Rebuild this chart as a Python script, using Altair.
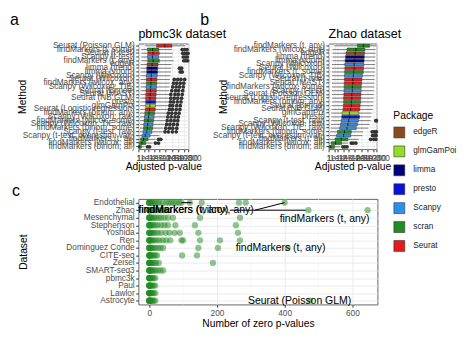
import altair as alt
import pandas as pd

# ---------------- data ----------------
packages = ["edgeR", "glmGamPoi", "limma", "presto", "Scanpy", "scran", "Seurat"]
package_colors = ["#8B4A1E", "#93DC2A", "#00007A", "#0A12D8", "#2E8FE8", "#228B22", "#E41A1C"]

pvalue_ticks = [0, 1, 2, 5, 10, 20, 50, 100, 200, 300]  # -log10(adjusted p)

# panel a : pbmc3k dataset (values are -log10 adjusted p-values)
methods_a = ["Seurat (Poisson GLM)", "findMarkers (t, some)", "Seurat (t-test)", "Scanpy (t-test)",
             "findMarkers (t, any)", "edgeR", "limma (trend)", "limma (voom)", "Scanpy (Wilcoxon)",
             "Seurat (Wilcoxon)", "findMarkers (wilcox, any)", "Scanpy (Wilcoxon, TIE)", "Seurat (Bimod)",
             "Seurat (MAST)", "Seurat (NB GLM)", "presto", "glmGamPoi", "Seurat (Logistic regression)",
             "findMarkers (binom, any)", "Scanpy (Wilcoxon, raw)", "findMarkers (wilcox, some)",
             "Scanpy (Wilcoxon, TIE, raw)", "findMarkers (binom, some)", "Scanpy (t-test, raw)",
             "Scanpy (t-test, overestim. var.)", "findMarkers (t, all)", "findMarkers (wilcox, all)",
             "findMarkers (binom, all)"]
package_a = ["Seurat", "scran", "Seurat", "Scanpy", "scran", "edgeR", "limma", "limma", "Scanpy",
             "Seurat", "scran", "Scanpy", "Seurat", "Seurat", "Seurat", "presto", "glmGamPoi", "Seurat",
             "scran", "Scanpy", "scran", "Scanpy", "scran", "Scanpy", "Scanpy", "scran", "scran", "scran"]
lo_a = [1.2, 0.4, 0.4, 0.4, 0.4, 0.3, 0.3, 0.3, 0.3, 0.3, 0.3, 0.3, 0.3, 0.25, 0.25, 0.25, 0.25, 0.25,
        0.2, 0.2, 0.2, 0.2, 0.2, 0.15, 0.1, 0.05, 0.0, 0.0]
q1_a = [7.1, 1.8, 1.9, 1.8, 1.9, 1.7, 1.6, 1.6, 1.5, 1.5, 1.5, 1.4, 1.4, 1.35, 1.3, 1.3, 1.3, 1.25,
        1.1, 1.0, 0.9, 0.85, 0.8, 0.7, 0.5, 0.3, 0.15, 0.02]
med_a = [19.7, 4.1, 4.3, 4.0, 4.4, 3.8, 3.6, 3.5, 3.4, 3.3, 3.2, 3.1, 3.0, 2.9, 2.8, 2.8, 2.7, 2.6,
         2.4, 2.2, 2.0, 1.9, 1.8, 1.6, 1.2, 0.8, 0.5, 0.1]
q3_a = [46, 9.3, 9.8, 9.0, 10, 8.5, 8.2, 8.0, 7.6, 7.4, 7.2, 7.0, 6.8, 6.6, 6.4, 6.3, 6.1, 5.9,
        5.4, 5.0, 4.6, 4.3, 4.1, 3.7, 2.8, 2.0, 1.3, 0.4]
hi_a = [211, 46, 50, 48, 55, 44, 42, 40, 38, 36, 35, 34, 33, 32, 31, 30, 29, 28,
        24, 22, 20, 18, 16, 15, 10, 6, 4, 1]
outliers_a = [[], [150, 200, 260], [160, 190, 240, 290], [170, 220, 270], [180, 230, 280], [],
              [110, 140], [120, 150], [], [60, 90, 130, 200], [55, 80, 120, 180], [50, 75, 110, 170],
              [45, 70, 100, 160], [40, 65, 95, 150], [40, 60, 90, 140], [38, 55, 85, 130],
              [36, 50, 80, 120], [34, 48, 75, 115], [30, 45, 70, 105], [28, 42, 65, 95],
              [26, 40, 60, 90], [24, 36, 55, 85], [22, 34, 50, 80], [20, 30, 48, 75], [],
              [9, 12], [6, 9], [1.8, 2.6]]

# panel b : Zhao dataset
methods_b = ["findMarkers (t, any)", "findMarkers (wilcox, any)", "edgeR", "limma (trend)", "limma (voom)",
             "Scanpy (Wilcoxon)", "Seurat (Wilcoxon)", "findMarkers (t, some)", "Scanpy (Wilcoxon, TIE)",
             "Seurat (t-test)", "Seurat (MAST)", "findMarkers (wilcox, some)", "Scanpy (t-test)",
             "Seurat (Poisson GLM)", "Seurat (Logistic regression)", "findMarkers (binom, any)",
             "Seurat (Bimod)", "Seurat (NB GLM)", "glmGamPoi", "presto", "Scanpy (t-test, raw)",
             "Scanpy (Wilcoxon, raw)", "Scanpy (Wilcoxon, TIE, raw)", "findMarkers (binom, some)",
             "Scanpy (t-test, overestim. var.)", "findMarkers (t, all)", "findMarkers (wilcox, all)",
             "findMarkers (binom, all)"]
package_b = ["scran", "scran", "edgeR", "limma", "limma", "Scanpy", "Seurat", "scran", "Scanpy", "Seurat",
             "Seurat", "scran", "Scanpy", "Seurat", "Seurat", "scran", "Seurat", "Seurat", "glmGamPoi",
             "presto", "Scanpy", "Scanpy", "Scanpy", "scran", "Scanpy", "scran", "scran", "scran"]
lo_b = [1.0, 0.6, 0.6, 0.6, 0.6, 0.5, 0.5, 0.5, 0.5, 0.5, 0.5, 0.5, 0.5, 0.5, 0.5, 0.5, 0.45, 0.45,
        0.4, 0.4, 0.4, 0.35, 0.3, 0.2, 0.15, 0.1, 0.0, 0.0]
q1_b = [30, 8, 7, 6.5, 6.2, 6, 6, 5.8, 5.7, 5.6, 5.5, 5.4, 5.3, 5.2, 5.0, 5.0, 4.8, 4.6,
        4.0, 3.8, 3.5, 3.2, 2.8, 1.9, 1.6, 1.2, 0.4, 0.05]
med_b = [63, 25, 23, 22, 21, 20, 20, 19, 18, 17, 17, 16, 16, 15, 15, 14, 14, 13,
         11, 11, 10, 9, 8, 5.7, 5, 3.5, 1.3, 0.3]
q3_b = [130, 75, 72, 70, 68, 66, 64, 62, 55, 52, 50, 48, 47, 46, 45, 44, 42, 40,
        36, 39, 34, 30, 26, 14, 13, 9, 3.7, 1.0]
hi_b = [300, 270, 265, 260, 255, 250, 250, 245, 240, 235, 230, 225, 220, 215, 210, 205, 200, 190,
        170, 160, 150, 130, 110, 60, 55, 35, 9, 3]
outliers_b = [[], [], [], [], [], [], [], [], [], [], [], [], [], [], [], [], [], [],
              [], [], [280, 300], [], [], [180, 230, 270, 300], [190, 240, 290], [150, 220, 280],
              [14, 18, 25], [4.5, 6, 8]]

# panel c : number of zero p-values per dataset (one value per method)
datasets = ["Endothelial", "Zhao", "Mesenchymal", "Stephenson", "Yoshida", "Ren", "Dominguez Conde",
            "CITE-seq", "Zeisel", "SMART-seq3", "pbmc3k", "Paul", "Lawlor", "Astrocyte"]
zero_counts = [
    [0, 0, 0, 0, 2, 5, 8, 12, 18, 25, 30, 40, 50, 58, 65, 72, 80, 88, 95, 120, 155, 265, 285, 400],
    [0, 0, 0, 1, 3, 6, 10, 15, 22, 30, 38, 45, 55, 470, 645],
    [0, 0, 0, 1, 3, 6, 10, 15, 20, 28, 35, 45, 55, 70, 150, 268],
    [0, 0, 0, 2, 4, 8, 12, 18, 25, 35, 45, 55, 77, 135, 256],
    [0, 0, 0, 2, 5, 8, 12, 18, 25, 35, 48, 60, 75, 90, 145, 262],
    [0, 0, 0, 1, 3, 6, 10, 15, 22, 30, 40, 50, 62, 95, 100, 150, 209, 268],
    [0, 0, 0, 1, 3, 5, 8, 12, 18, 25, 33, 41, 145, 203, 409],
    [0, 0, 0, 1, 2, 4, 6, 9, 13, 18, 23, 97, 141],
    [0, 0, 0, 1, 2, 4, 7, 10, 15, 20, 28, 188],
    [0, 0, 0, 1, 2, 4, 6, 9, 13, 18, 25, 33, 41],
    [0, 0, 0, 0, 1, 2, 4, 6, 9, 13, 18],
    [0, 0, 0, 0, 1, 2, 4, 6, 9, 13, 18],
    [0, 0, 0, 0, 1, 2, 4, 6, 9, 13, 18],
    [0, 0, 0, 0, 1, 2, 4, 6, 9, 13, 18, 475],
]
count_ticks = [0, 200, 400, 600]
count_minor = [100, 300, 500]

label_text = ["findMarkers (t, any)", "findMarkers (wilcox, any)", "findMarkers (t, any)", "Seurat (Poisson GLM)"]
label_x = [101, 138, 388, 444]
label_row = ["Zhao", "Zhao", "Dominguez Conde", "Astrocyte"]
label_below_text = ["findMarkers (t, any)"]
label_below_x = [518]
label_below_row = ["Zhao"]

seg_x = [238, 312, 95]
seg_row = ["Zhao", "Zhao", "Endothelial"]
seg_x2 = [462, 400, 125]
seg_row2 = ["Zhao", "Endothelial", "Endothelial"]

# ---------------- styling helpers ----------------
FONT = "Liberation Sans"
AX_LAB = 8.3
AX_TIT = 10.3
LAB_COL = "#4D4D4D"

color_enc = alt.Color(
    "package:N",
    scale=alt.Scale(domain=packages, range=package_colors),
    legend=alt.Legend(title="Package", orient="none", legendX=256, legendY=68,
                      symbolType="square", symbolSize=120, symbolStrokeColor="#333",
                      symbolStrokeWidth=0.6, titlePadding=5, rowPadding=5, labelOffset=8,
                      titleFontSize=AX_TIT, titleFontWeight="normal", titleColor="black",
                      labelFontSize=AX_LAB, labelColor="#222", padding=0),
)

one_row = pd.DataFrame({"t": [0]})


def text_at(s, x, y, size):
    return alt.Chart(pd.DataFrame({"t": [s]})).mark_text(
        fontSize=size, align="left", baseline="alphabetic", color="black", font=FONT
    ).encode(text="t:N", x=alt.value(x), y=alt.value(y))


def anchor(x, y):
    # invisible, zero-width marker fixing the extent used by the layout
    return alt.Chart(one_row).mark_rule(opacity=0, strokeWidth=0).encode(
        x=alt.value(x), x2=alt.value(x), y=alt.value(y), y2=alt.value(y))


def box_panel(methods, pkgs, lo, q1, med, q3, hi, outs, title, ch, width, title_x, extra=()):
    df = pd.DataFrame({"method": methods, "package": pkgs, "lo": lo, "q1": q1,
                       "med": med, "q3": q3, "hi": hi})
    od = pd.DataFrame([(m, v) for m, vs in zip(methods, outs) for v in vs],
                      columns=["method", "value"])
    xs = alt.Scale(type="log", domain=[1, 301], nice=False)
    xaxis = alt.Axis(values=[v + 1 for v in pvalue_ticks],
                     labelExpr="datum.value == 1 ? '1' : '1e-' + (datum.value - 1)",
                     labelFontSize=AX_LAB, labelColor=LAB_COL, labelOverlap=False,
                     labelFlush=False, labelPadding=1.5, tickSize=2.75, tickColor="#333",
                     domain=False, grid=True, gridColor="#EBEBEB", title="Adjusted p-value",
                     titleFontSize=AX_TIT, titleFontWeight="normal", titleColor="black",
                     titlePadding=0)
    y = alt.Y("method:N",
              scale=alt.Scale(domain=methods, paddingInner=0, paddingOuter=0.1),
              axis=alt.Axis(labelFontSize=AX_LAB, labelColor=LAB_COL, labelPadding=1.5,
                            tickSize=2.75, tickColor="#333", domain=False, grid=True,
                            gridColor="#EBEBEB", title="Method", titleFontSize=AX_TIT,
                            titleFontWeight="normal", titleColor="black",
                            titleX=title_x, titleY=53, labelLimit=200))
    whisk = alt.Chart(df).transform_calculate(
        lo1="datum.lo + 1", hi1="datum.hi + 1").mark_rule(color="#333", strokeWidth=0.6).encode(
        x=alt.X("lo1:Q", scale=xs, axis=xaxis), x2="hi1:Q", y=y)
    box = alt.Chart(df).transform_calculate(
        q11="datum.q1 + 1", q31="datum.q3 + 1").mark_bar(
        height=alt.RelativeBandSize(0.8), stroke="#333", strokeWidth=0.5).encode(
        x=alt.X("q11:Q", scale=xs), x2="q31:Q", y=y, color=color_enc)
    medt = alt.Chart(df).transform_calculate(m1="datum.med + 1").mark_tick(
        color="black", thickness=1, size=3).encode(x=alt.X("m1:Q", scale=xs), y=y)
    outp = alt.Chart(od).transform_calculate(v1="datum.value + 1").mark_circle(
        size=14, color="#333", opacity=1).encode(x=alt.X("v1:Q", scale=xs), y=y)
    layers = [whisk, box, medt, outp, text_at(ch, -129, -19, 16), text_at(title, 0, -6, 12.5)]
    layers += list(extra)
    return alt.layer(*layers).properties(width=width, height=106)


panel_a = box_panel(methods_a, package_a, lo_a, q1_a, med_a, q3_a, hi_a, outliers_a,
                    "pbmc3k dataset", "a", 50, -111, extra=(anchor(-138, -42), anchor(0, 134)))
panel_b = box_panel(methods_b, package_b, lo_b, q1_b, med_b, q3_b, hi_b, outliers_b,
                    "Zhao dataset", "b", 48, -101)

# ---------------- panel c ----------------
pts = pd.DataFrame([(d, v) for d, vs in zip(datasets, zero_counts) for v in vs],
                   columns=["dataset", "zeros"])
labs = pd.DataFrame({"text": label_text, "x": label_x, "dataset": label_row})
labs_below = pd.DataFrame({"text": label_below_text, "x": label_below_x, "dataset": label_below_row})
segs = pd.DataFrame({"x": seg_x, "x2": seg_x2, "dataset": seg_row, "dataset2": seg_row2})
minor = pd.DataFrame({"v": count_minor})

xc = alt.Scale(domain=[-32, 674], nice=False, zero=False)
yc = alt.Scale(domain=datasets, type="point", padding=0.5)
yc_enc = alt.Y("dataset:N", scale=yc,
               axis=alt.Axis(labelFontSize=AX_LAB, labelColor=LAB_COL, labelPadding=1.5,
                             tickSize=2.75, tickColor="#333", domain=False, grid=True,
                             gridColor="#EBEBEB", title="Dataset", titleFontSize=AX_TIT,
                             titleFontWeight="normal", titleColor="black",
                             titleX=-110, titleY=53))

minor_rules = alt.Chart(minor).mark_rule(color="#F3F3F3", strokeWidth=0.6).encode(
    x=alt.X("v:Q", scale=xc,
            axis=alt.Axis(values=count_ticks, labelFontSize=AX_LAB, labelColor=LAB_COL,
                          labelPadding=1.5, tickSize=2.75, tickColor="#333", domain=False,
                          grid=True, gridColor="#EBEBEB", title="Number of zero p-values",
                          titleFontSize=AX_TIT, titleFontWeight="normal", titleColor="black",
                          titlePadding=2)))
points = alt.Chart(pts).mark_circle(size=40, color="#228B22", opacity=0.5).encode(
    x=alt.X("zeros:Q", scale=xc), y=yc_enc)
segments = alt.Chart(segs).mark_rule(color="black", strokeWidth=1).encode(
    x=alt.X("x:Q", scale=xc), x2="x2:Q", y=alt.Y("dataset:N", scale=yc), y2="dataset2:N")
texts = alt.Chart(labs).mark_text(fontSize=10.5, color="black", font=FONT).encode(
    x=alt.X("x:Q", scale=xc), y=alt.Y("dataset:N", scale=yc), text="text:N")
texts_below = alt.Chart(labs_below).mark_text(fontSize=10.5, color="black", font=FONT, dy=9).encode(
    x=alt.X("x:Q", scale=xc), y=alt.Y("dataset:N", scale=yc), text="text:N")

panel_c = alt.layer(minor_rules, points, segments, texts, texts_below,
                    text_at("c", -127, -3, 16), anchor(-138, -20), anchor(336, 140)
                    ).properties(width=240, height=106)

top = alt.hconcat(panel_a, panel_b, spacing=141, bounds="flush")
chart = alt.vconcat(top, panel_c, spacing=0).properties(
    padding=0,
).configure(font=FONT, background="white").configure_view(
    stroke="#666", strokeWidth=1
)

chart.save("out.html", embed_options={"renderer": "svg", "actions": False})
